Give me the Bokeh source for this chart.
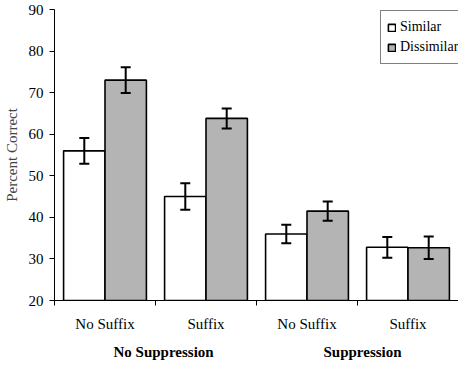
import numpy as np
from bokeh.plotting import figure
from bokeh.models import (ColumnDataSource, Whisker, TeeHead, FixedTicker,
                          LinearAxis, Range1d)
from bokeh.embed import file_html
from bokeh.resources import INLINE

# ---- data ----
conditions = ["No Suffix", "Suffix", "No Suffix", "Suffix"]
groups = ["No Suppression", "Suppression"]
similar = [56.0, 45.0, 36.0, 32.8]
similar_err = [3.1, 3.2, 2.2, 2.5]
dissimilar = [73.0, 63.8, 41.5, 32.7]
dissimilar_err = [3.1, 2.4, 2.3, 2.7]
y_ticks = [20, 30, 40, 50, 60, 70, 80, 90]

FONT = "Liberation Serif"
GREY = "#b4b4b4"
BAR_W = 0.41

idx = np.arange(len(conditions))
centers = idx + 0.5
x_sim = centers - BAR_W / 2
x_dis = centers + BAR_W / 2

src_sim = ColumnDataSource(dict(
    x=x_sim, top=similar,
    upper=np.array(similar) + np.array(similar_err),
    lower=np.array(similar) - np.array(similar_err)))
src_dis = ColumnDataSource(dict(
    x=x_dis, top=dissimilar,
    upper=np.array(dissimilar) + np.array(dissimilar_err),
    lower=np.array(dissimilar) - np.array(dissimilar_err)))

p = figure(width=458, height=362, output_backend="svg", toolbar_location=None,
           x_range=Range1d(0, len(conditions)), y_range=Range1d(y_ticks[0], y_ticks[-1]),
           min_border_left=47, min_border_right=0, min_border_top=9,
           min_border_bottom=59)
p.outline_line_color = None
p.xgrid.visible = False
p.ygrid.visible = False
p.background_fill_color = "white"

p.vbar(x="x", top="top", bottom=y_ticks[0], width=BAR_W, source=src_sim,
       fill_color="white", line_color="black", line_width=1.6,
       legend_label="Similar")
p.vbar(x="x", top="top", bottom=y_ticks[0], width=BAR_W, source=src_dis,
       fill_color=GREY, line_color="black", line_width=1.6,
       legend_label="Dissimilar")

for src in (src_sim, src_dis):
    w = Whisker(base="x", upper="upper", lower="lower", source=src,
                line_width=2, line_color="black", level="overlay",
                upper_head=TeeHead(size=10, line_width=2, line_color="black"),
                lower_head=TeeHead(size=10, line_width=2, line_color="black"))
    p.add_layout(w)

# y axis
ya = p.yaxis[0]
ya.ticker = FixedTicker(ticks=y_ticks)
ya.axis_label = "Percent Correct"
ya.axis_label_text_font = FONT
ya.axis_label_text_font_style = "normal"
ya.axis_label_text_font_size = "15px"
ya.axis_label_standoff = 6
ya.major_label_text_font = FONT
ya.major_label_text_font_size = "15px"
ya.major_label_text_color = "black"
ya.major_label_standoff = 6
ya.major_tick_out = 5
ya.major_tick_in = 0
ya.minor_tick_line_color = None
ya.axis_line_color = "black"
ya.major_tick_line_color = "black"

# x axis: category labels at centres, ticks at boundaries
xa = p.xaxis[0]
xa.ticker = FixedTicker(ticks=list(centers), minor_ticks=list(np.arange(len(conditions) + 1)))
xa.major_label_overrides = {float(c): lab for c, lab in zip(centers, conditions)}
xa.major_tick_line_color = None
xa.major_tick_out = 0
xa.major_tick_in = 0
xa.minor_tick_out = 5
xa.minor_tick_in = 0
xa.minor_tick_line_color = "black"
xa.axis_line_color = "black"
xa.major_label_text_font = FONT
xa.major_label_text_font_size = "15px"
xa.major_label_text_color = "black"
xa.major_label_standoff = 10

# group axis
gpos = [1.08, 3.05]
ga = LinearAxis(ticker=FixedTicker(ticks=gpos, minor_ticks=[]))
ga.major_label_overrides = {g: lab for g, lab in zip(gpos, groups)}
ga.axis_line_color = None
ga.major_tick_line_color = None
ga.minor_tick_line_color = None
ga.major_tick_out = 0
ga.major_tick_in = 0
ga.major_label_text_font = FONT
ga.major_label_text_font_size = "15px"
ga.major_label_text_font_style = "bold"
ga.major_label_text_color = "black"
ga.major_label_standoff = 9
p.add_layout(ga, "below")

# legend
lg = p.legend[0]
lg.location = (326, 236)
lg.border_line_color = "black"
lg.border_line_width = 1
lg.background_fill_color = "white"
lg.background_fill_alpha = 1
lg.label_text_font = FONT
lg.label_text_font_size = "14px"
lg.label_text_color = "black"
lg.glyph_width = 9
lg.glyph_height = 9
lg.label_height = 20
lg.label_standoff = 4
lg.spacing = 0
lg.padding = 6
lg.margin = 0

open("out.html", "w").write(file_html(p, INLINE))
